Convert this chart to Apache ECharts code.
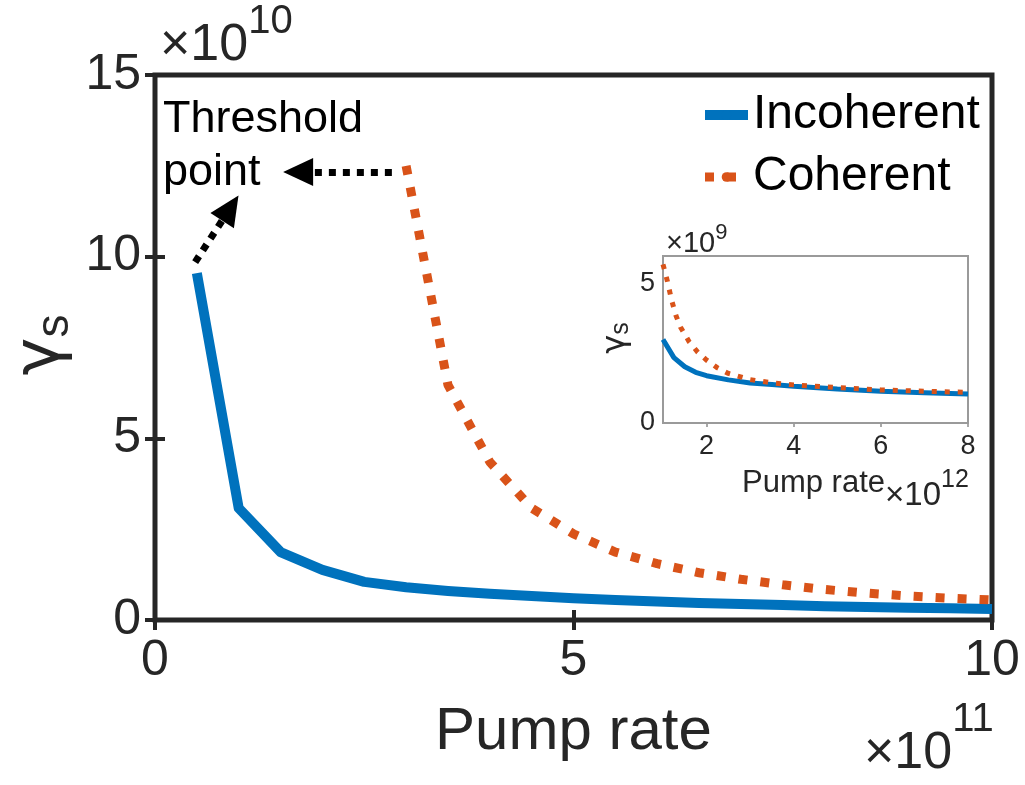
<!DOCTYPE html>
<html>
<head>
<meta charset="utf-8">
<script src="https://cdn.jsdelivr.net/npm/echarts@6/dist/echarts.min.js"></script>
<style>
  html, body { margin: 0; padding: 0; background: #fff; }
  #chart { width: 1025px; height: 785px; }
</style>
</head>
<body>
<div id="chart"></div>
<script>
// main plot: pump rate in 1e11, gamma_s in 1e10
const incX = [0.5, 1, 1.5, 2, 2.5, 3, 3.5, 4, 4.5, 5, 5.5, 6, 6.5, 7, 7.5, 8, 8.5, 9, 9.5, 10]
const incY = [9.55, 3.08, 1.87, 1.38, 1.05, 0.9, 0.8, 0.72, 0.66, 0.6, 0.55, 0.51, 0.47, 0.44, 0.41, 0.38, 0.36, 0.34, 0.32, 0.3]
const cohX = [3, 3.5, 4, 4.5, 5, 5.5, 6, 6.5, 7, 7.5, 8, 8.5, 9, 9.5, 10]
const cohY = [12.5, 6.47, 4.35, 3.08, 2.37, 1.87, 1.55, 1.3, 1.12, 0.97, 0.84, 0.74, 0.66, 0.6, 0.55]

// inset: pump rate in 1e12, gamma_s in 1e9
const insIncX = [1, 1.25, 1.5, 1.75, 2, 2.5, 3, 3.5, 4, 5, 6, 7, 8]
const insIncY = [3.0, 2.35, 2.02, 1.82, 1.7, 1.55, 1.44, 1.38, 1.32, 1.22, 1.14, 1.09, 1.04]
const insCohX = [1, 1.1, 1.2, 1.3, 1.4, 1.6, 1.8, 2, 2.25, 2.5, 3, 3.5, 4, 5, 6, 7, 8]
const insCohY = [5.7, 5.1, 4.4, 3.85, 3.45, 2.92, 2.54, 2.26, 1.98, 1.78, 1.56, 1.44, 1.37, 1.27, 1.19, 1.14, 1.1]

const insXTicks = [2, 4, 6, 8]
const insYTicks = [0, 5]

// "Threshold point" arrows, in main data units
const arrowFromCoh = [[2.83, 12.33], [1.71, 12.33]]
const arrowFromInc = [[0.48, 9.85], [0.9, 11.34]]

const FONT = 'Arial, "Liberation Sans", Helvetica, sans-serif'
const DARK = '#262626'
const BLUE = '#0072BD'
const ORANGE = '#D95319'

const pairs = (xs, ys) => xs.map((x, i) => [x, ys[i]])

const chart = echarts.init(document.getElementById('chart'))

function mainAxis(extra) {
  return Object.assign({
    type: 'value',
    gridIndex: 0,
    axisLine: { show: false },
    axisTick: { inside: true, length: 10, lineStyle: { color: DARK, width: 4 } },
    splitLine: { show: false },
    axisLabel: { color: DARK, fontSize: 50, fontFamily: FONT }
  }, extra)
}

const insTick = vals => ({ inside: true, length: 4, customValues: vals, lineStyle: { color: '#8c8c8c', width: 1.5 } })

function insetAxis(extra) {
  return Object.assign({
    type: 'value',
    gridIndex: 1,
    axisLine: { show: false },
    splitLine: { show: false }
  }, extra)
}

const option = {
  animation: false,
  backgroundColor: '#fff',
  grid: [
    { left: 155, top: 75, width: 837, height: 545, show: true, borderColor: DARK, borderWidth: 5, backgroundColor: 'transparent' },
    { left: 663, top: 256, width: 305, height: 167, show: true, borderColor: '#9a9a9a', borderWidth: 2, backgroundColor: '#fff', z: 5 }
  ],
  xAxis: [
    mainAxis({
      min: 0, max: 10, interval: 5,
      axisLabel: { color: DARK, fontSize: 50, fontFamily: FONT, margin: 16 },
      name: 'Pump rate', nameLocation: 'middle', nameGap: 82,
      nameTextStyle: { color: DARK, fontSize: 60, fontFamily: FONT }
    }),
    mainAxis({ min: 0, max: 10, interval: 5, position: 'top', axisLabel: { show: false } }),
    insetAxis({
      min: 1, max: 8,
      axisLabel: { color: DARK, fontSize: 27, fontFamily: FONT, margin: 10, customValues: insXTicks },
      axisTick: insTick(insXTicks)
    }),
    insetAxis({ min: 1, max: 8, position: 'top', axisLabel: { show: false }, axisTick: insTick(insXTicks) })
  ],
  yAxis: [
    mainAxis({ min: 0, max: 15, interval: 5, axisLabel: { color: DARK, fontSize: 50, fontFamily: FONT, margin: 14 } }),
    mainAxis({ min: 0, max: 15, interval: 5, position: 'right', axisLabel: { show: false } }),
    insetAxis({
      min: 0, max: 6,
      axisLabel: { color: DARK, fontSize: 27, fontFamily: FONT, margin: 8, customValues: insYTicks },
      axisTick: insTick(insYTicks)
    }),
    insetAxis({ min: 0, max: 6, position: 'right', axisLabel: { show: false }, axisTick: insTick(insYTicks) })
  ],
  legend: {
    left: 700, top: 89, orient: 'vertical', padding: 0,
    icon: 'inherit',
    itemWidth: 43, itemHeight: 12, itemGap: 10,
    lineStyle: { width: 'inherit' },
    textStyle: { color: '#000', fontSize: 48, fontFamily: FONT, lineHeight: 52 },
    data: ['Incoherent', 'Coherent']
  },
  series: [
    {
      name: 'Incoherent', type: 'line', xAxisIndex: 0, yAxisIndex: 0,
      data: pairs(incX, incY), symbol: 'none', z: 3,
      lineStyle: { color: BLUE, width: 10, join: 'round' },
      itemStyle: { color: BLUE },
      markLine: {
        silent: true, animation: false,
        symbol: ['none', 'triangle'], symbolSize: [28, 30],
        label: { show: false },
        lineStyle: { color: '#000', width: 7, type: [7, 7] },
        itemStyle: { color: '#000' },
        emphasis: { disabled: true },
        data: [
          [{ coord: arrowFromCoh[0] }, { coord: arrowFromCoh[1] }],
          [{ coord: arrowFromInc[0] }, { coord: arrowFromInc[1] }]
        ]
      }
    },
    {
      name: 'Coherent', type: 'line', xAxisIndex: 0, yAxisIndex: 0,
      data: pairs(cohX, cohY), symbol: 'none', z: 3,
      lineStyle: { color: ORANGE, width: 9, type: [9, 13], cap: 'butt' },
      itemStyle: { color: ORANGE }
    },
    {
      name: 'Incoherent', type: 'line', xAxisIndex: 2, yAxisIndex: 2,
      data: pairs(insIncX, insIncY), symbol: 'none', z: 6,
      lineStyle: { color: BLUE, width: 5 }
    },
    {
      name: 'Coherent', type: 'line', xAxisIndex: 2, yAxisIndex: 2,
      data: pairs(insCohX, insCohY), symbol: 'none', z: 7,
      lineStyle: { color: ORANGE, width: 5, type: [5, 8] }
    }
  ],
  graphic: [
    {
      type: 'text', left: 163, top: 93, z: 10,
      style: { text: 'Threshold\npoint', fill: '#000', font: '45px ' + FONT, lineHeight: 53 }
    },
    {
      type: 'text', left: 160, top: 2, z: 10,
      style: {
        text: '{a|×10}{b|10}',
        rich: {
          a: { fontSize: 52, fontFamily: FONT, fill: DARK, lineHeight: 70, verticalAlign: 'bottom' },
          b: { fontSize: 40, fontFamily: FONT, fill: DARK, lineHeight: 40, verticalAlign: 'top' }
        }
      }
    },
    {
      type: 'text', left: 864, top: 700, z: 10,
      style: {
        text: '{a|×10}{b|11}',
        rich: {
          a: { fontSize: 52, fontFamily: FONT, fill: DARK, lineHeight: 80, verticalAlign: 'bottom' },
          b: { fontSize: 40, fontFamily: FONT, fill: DARK, lineHeight: 40, verticalAlign: 'top' }
        }
      }
    },
    {
      type: 'text', x: 42, y: 345, rotation: Math.PI / 2, z: 10,
      style: {
        text: '{g|γ}{s|s}', align: 'center', verticalAlign: 'middle',
        rich: {
          g: { fontSize: 64, fontFamily: '"DejaVu Sans", ' + FONT, fill: DARK, lineHeight: 72 },
          s: { fontSize: 46, fontFamily: FONT, fill: DARK, lineHeight: 46, verticalAlign: 'bottom' }
        }
      }
    },
    {
      type: 'text', x: 616, y: 338, rotation: Math.PI / 2, z: 10,
      style: {
        text: '{g|γ}{s|s}', align: 'center', verticalAlign: 'middle',
        rich: {
          g: { fontSize: 32, fontFamily: '"DejaVu Sans", ' + FONT, fill: DARK, lineHeight: 36 },
          s: { fontSize: 25, fontFamily: FONT, fill: DARK, lineHeight: 25, verticalAlign: 'bottom' }
        }
      }
    },
    {
      type: 'text', left: 666, top: 222, z: 10,
      style: {
        text: '{a|×10}{b|9}',
        rich: {
          a: { fontSize: 29, fontFamily: FONT, fill: DARK, lineHeight: 36, verticalAlign: 'bottom' },
          b: { fontSize: 22, fontFamily: FONT, fill: DARK, lineHeight: 22, verticalAlign: 'top' }
        }
      }
    },
    {
      type: 'text', left: 742, top: 468, z: 10,
      style: {
        text: '{n|Pump rate}{a|×10}{b|12}',
        rich: {
          n: { fontSize: 31, fontFamily: FONT, fill: DARK, lineHeight: 40, verticalAlign: 'top' },
          a: { fontSize: 33, fontFamily: FONT, fill: DARK, lineHeight: 44, verticalAlign: 'bottom' },
          b: { fontSize: 25, fontFamily: FONT, fill: DARK, lineHeight: 26, verticalAlign: 'top' }
        }
      }
    }
  ]
}

chart.setOption(option)
</script>
</body>
</html>
